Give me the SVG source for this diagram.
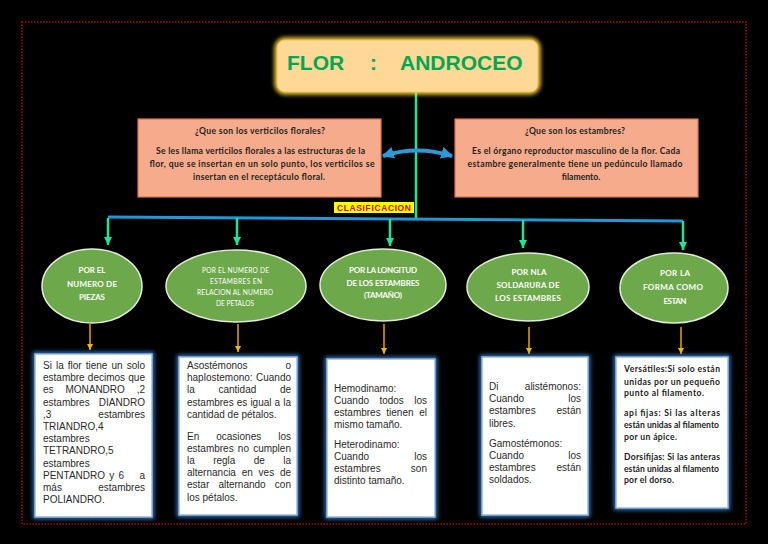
<svg xmlns="http://www.w3.org/2000/svg" width="768" height="544" viewBox="0 0 768 544">
<defs>
<style>
.ttl{font-family:"Liberation Sans",Arial,sans-serif;font-weight:bold;font-size:21px;fill:#00a651}
.sal{fill:#f5ab8c;stroke:#d9764e;stroke-width:1.2}
.st{font-family:Lato,"Open Sans",sans-serif;font-weight:bold;font-size:8.6px;fill:#231f1c}
.ell{fill:#6da84a;stroke:#e3ecd8;stroke-width:1.5}
.et{font-family:Lato,"Open Sans",sans-serif;font-weight:bold;font-size:8px;fill:#ffffff;text-anchor:middle}
.et2{font-family:Lato,"Open Sans",sans-serif;font-weight:normal;font-size:6.6px;fill:#ffffff;text-anchor:middle}
.box{fill:#ffffff;stroke:#8fb8e6;stroke-width:1.5}
.boxg{fill:none;stroke:#3d7fd0;stroke-width:4}
.bt{font-family:"Liberation Sans",Arial,sans-serif;font-size:10px;fill:#2a2a2a}
.b5{font-family:Lato,"Open Sans",sans-serif;font-weight:bold;font-size:8.6px;fill:#1c1c1c}
.r{text-anchor:end}
.gl{stroke:#22e39a;stroke-width:2.5;fill:none}
.yl{stroke:#f2b400;stroke-width:1.4;fill:none}
</style>
<filter id="blur" x="-20%" y="-30%" width="140%" height="160%"><feGaussianBlur stdDeviation="2.2"/></filter>
<marker id="ga" viewBox="0 0 8 8" refX="8" refY="4" markerWidth="8" markerHeight="8" markerUnits="userSpaceOnUse" orient="auto"><path d="M0,0 L8,4 L0,8 z" fill="#22e39a"/></marker>
<marker id="ya" viewBox="0 0 6 6" refX="6" refY="3" markerWidth="6" markerHeight="6" markerUnits="userSpaceOnUse" orient="auto"><path d="M0,0 L6,3 L0,6 z" fill="#f2b400"/></marker>
<marker id="ba" viewBox="0 0 10 10" refX="9" refY="5" markerWidth="12" markerHeight="12" markerUnits="userSpaceOnUse" orient="auto-start-reverse"><path d="M0,0 L10,5 L0,10 z" fill="#2b9ad8"/></marker>
</defs>
<rect x="0" y="0" width="768" height="544" fill="#000000"/>
<rect x="22" y="22" width="724" height="502" fill="none" stroke="#7a0a0a" stroke-width="2" stroke-dasharray="1.5 1.5"/>

<g id="connectors">
<line class="gl" x1="416" y1="92" x2="416" y2="219"/>
<path d="M383,156 Q417,145 452,156" fill="none" stroke="#2b9ad8" stroke-width="4" marker-start="url(#ba)" marker-end="url(#ba)"/>
<line x1="108" y1="217" x2="683" y2="221" stroke="#1e9ad6" stroke-width="3"/>
<line class="gl" x1="108" y1="218" x2="108" y2="245" marker-end="url(#ga)"/>
<line class="gl" x1="237" y1="218" x2="237" y2="245" marker-end="url(#ga)"/>
<line class="gl" x1="390" y1="219" x2="390" y2="246" marker-end="url(#ga)"/>
<line class="gl" x1="523" y1="220" x2="523" y2="248" marker-end="url(#ga)"/>
<line class="gl" x1="683" y1="221" x2="683" y2="250" marker-end="url(#ga)"/>
<line class="yl" x1="90" y1="324" x2="90" y2="350" marker-end="url(#ya)"/>
<line class="yl" x1="238" y1="324" x2="238" y2="352" marker-end="url(#ya)"/>
<line class="yl" x1="384" y1="324" x2="384" y2="354" marker-end="url(#ya)"/>
<line class="yl" x1="529" y1="327" x2="529" y2="354" marker-end="url(#ya)"/>
<line class="yl" x1="681" y1="327" x2="681" y2="354" marker-end="url(#ya)"/>
</g>

<g id="title">
<rect x="277" y="40" width="261" height="52" rx="8" fill="none" stroke="#ffd640" stroke-width="5" filter="url(#blur)"/>
<rect x="277" y="40" width="261" height="52" rx="8" fill="#fdd896" stroke="#f2c24a" stroke-width="1"/>
<text class="ttl" y="70"><tspan x="287">FLOR</tspan><tspan x="370">:</tspan><tspan x="400">ANDROCEO</tspan></text>
</g>

<g id="verticilos">
<rect class="sal" x="138" y="119" width="243" height="78"/>
<text class="st" text-anchor="middle" x="260" y="134" textLength="130">¿Que son los verticilos florales?</text>
<text class="st" text-anchor="middle" x="260.5" y="154" textLength="209">Se les llama verticilos florales a las estructuras de la</text>
<text class="st" text-anchor="middle" x="262" y="166.5" textLength="225">flor, que se insertan en un solo punto, los verticilos se</text>
<text class="st" text-anchor="middle" x="259" y="180" textLength="132">insertan en el receptáculo floral.</text>
</g>

<g id="estambres">
<rect class="sal" x="455" y="119" width="243" height="78"/>
<text class="st" text-anchor="middle" x="575" y="134" textLength="100">¿Que son los estambres?</text>
<text class="st" text-anchor="middle" x="576" y="154" textLength="208">Es el órgano reproductor masculino de la flor. Cada</text>
<text class="st" text-anchor="middle" x="575" y="166.5" textLength="215">estambre generalmente tiene un pedúnculo llamado</text>
<text class="st" text-anchor="middle" x="581" y="180">filamento.</text>
</g>

<g id="clasificacion">
<rect x="334" y="202" width="80" height="11" fill="#ffff00"/>
<text x="374" y="211" text-anchor="middle" font-family="Liberation Sans, Arial, sans-serif" font-weight="bold" font-size="8.5" fill="#e00000" textLength="74">CLASIFICACION</text>
</g>

<g id="e1">
<ellipse class="ell" cx="92" cy="286" rx="50" ry="37"/>
<text class="et" x="92" y="273" textLength="27">POR EL</text>
<text class="et" x="92" y="286.5" textLength="50">NUMERO DE</text>
<text class="et" x="92" y="300" textLength="26">PIEZAS</text>
</g>
<g id="e2">
<ellipse class="ell" cx="236" cy="286" rx="70" ry="36"/>
<text class="et2" x="235.5" y="272.5" textLength="67">POR EL NUMERO DE</text>
<text class="et2" x="236" y="284" textLength="52">ESTAMBRES EN</text>
<text class="et2" x="235" y="294.5" textLength="76">RELACION AL NUMERO</text>
<text class="et2" x="235" y="305.5" textLength="38">DE PETALOS</text>
</g>
<g id="e3">
<ellipse class="ell" cx="383" cy="285" rx="63" ry="36"/>
<text class="et" x="383" y="273" textLength="68">POR LA LONGITUD</text>
<text class="et" x="383" y="286" textLength="73">DE LOS ESTAMBRES</text>
<text class="et" x="383" y="298" textLength="38">(TAMAÑO)</text>
</g>
<g id="e4">
<ellipse class="ell" cx="528" cy="287" rx="61" ry="34"/>
<text class="et" x="529" y="275" textLength="35">POR NLA</text>
<text class="et" x="528" y="288" textLength="63">SOLDARURA DE</text>
<text class="et" x="528" y="301" textLength="66">LOS ESTAMBRES</text>
</g>
<g id="e5">
<ellipse class="ell" cx="674" cy="288" rx="54" ry="35"/>
<text class="et" x="675" y="276" textLength="30">POR LA</text>
<text class="et" x="673" y="290" textLength="60">FORMA COMO</text>
<text class="et" x="675" y="304" textLength="23">ESTAN</text>
</g>

<g id="box1">
<rect class="boxg" x="35" y="354" width="117" height="163" filter="url(#blur)"/>
<rect class="box" x="35" y="354" width="117" height="163"/>
<text class="bt" x="43" y="369" word-spacing="1.28">Si la flor tiene un solo</text>
<text class="bt" x="43" y="381.2" word-spacing="0.4">estambre decimos que</text>
<text class="bt" x="43" y="393.4" word-spacing="9.05">es MONANDRO ,2</text>
<text class="bt" x="43" y="405.6" word-spacing="6.4">estambres DIANDRO</text>
<text class="bt" x="43" y="417.8" word-spacing="44.2">,3 estambres</text>
<text class="bt" x="43" y="430">TRIANDRO,4</text>
<text class="bt" x="43" y="442.2">estambres</text>
<text class="bt" x="43" y="454.4">TETRANDRO,5</text>
<text class="bt" x="43" y="466.6">estambres</text>
<text class="bt" x="43" y="478.8" word-spacing="1.5">PENTANDRO y 6</text>
<text class="bt r" x="145" y="478.8">a</text>
<text class="bt" x="43" y="491" word-spacing="33.6">más estambres</text>
<text class="bt" x="43" y="503.2">POLIANDRO.</text>
</g>

<g id="box2">
<rect class="boxg" x="179" y="357" width="118" height="158" filter="url(#blur)"/>
<rect class="box" x="179" y="357" width="118" height="158"/>
<text class="bt" x="187" y="369" word-spacing="35.1">Asostémonos o</text>
<text class="bt" x="187" y="381.2" word-spacing="0.6">haplostemono: Cuando</text>
<text class="bt" x="187" y="393.4" word-spacing="20.9">la cantidad de</text>
<text class="bt" x="187" y="405.6" word-spacing="0.3">estambres es igual a la</text>
<text class="bt" x="187" y="417.8">cantidad de pétalos.</text>
<text class="bt" x="187" y="440" word-spacing="14.2">En ocasiones los</text>
<text class="bt" x="187" y="452.1" word-spacing="1.4">estambres no cumplen</text>
<text class="bt" x="187" y="464.2" word-spacing="15.6">la regla de la</text>
<text class="bt" x="187" y="476.3" word-spacing="3">alternancia en ves de</text>
<text class="bt" x="187" y="488.4" word-spacing="6.4">estar alternando con</text>
<text class="bt" x="187" y="500.5">los pétalos.</text>
</g>

<g id="box3">
<rect class="boxg" x="327" y="359" width="108" height="158" filter="url(#blur)"/>
<rect class="box" x="327" y="359" width="108" height="158"/>
<text class="bt" x="334" y="391.5">Hemodinamo:</text>
<text class="bt" x="334" y="403.5" word-spacing="7.6">Cuando todos los</text>
<text class="bt" x="334" y="415.5" word-spacing="2.85">estambres tienen el</text>
<text class="bt" x="334" y="427.5">mismo tamaño.</text>
<text class="bt" x="334" y="447.5">Heterodinamo:</text>
<text class="bt" x="334" y="459.5" word-spacing="42.4">Cuando los</text>
<text class="bt" x="334" y="471.5" word-spacing="27.4">estambres son</text>
<text class="bt" x="334" y="483.5">distinto tamaño.</text>
</g>

<g id="box4">
<rect class="boxg" x="482" y="357" width="106" height="158" filter="url(#blur)"/>
<rect class="box" x="482" y="357" width="106" height="158"/>
<text class="bt" x="489" y="390" word-spacing="23.6">Di alistémonos:</text>
<text class="bt" x="489" y="402.2" word-spacing="41.4">Cuando los</text>
<text class="bt" x="489" y="414.4" word-spacing="18.1">estambres están</text>
<text class="bt" x="489" y="426.6">libres.</text>
<text class="bt" x="489" y="446.5">Gamostémonos:</text>
<text class="bt" x="489" y="458.7" word-spacing="41.4">Cuando los</text>
<text class="bt" x="489" y="470.9" word-spacing="18.1">estambres están</text>
<text class="bt" x="489" y="483.1">soldados.</text>
</g>

<g id="box5">
<rect class="boxg" x="616" y="357" width="112" height="151" filter="url(#blur)"/>
<rect class="box" x="616" y="357" width="112" height="151"/>
<text class="b5" x="624" y="372" textLength="96">Versátiles:Si solo están</text>
<text class="b5" x="624" y="385" textLength="96">unidas por un pequeño</text>
<text class="b5" x="624" y="396" textLength="80">punto al filamento.</text>
<text class="b5" x="624" y="416" textLength="96">api fijas: Si las alteras</text>
<text class="b5" x="624" y="428" textLength="95">están unidas al filamento</text>
<text class="b5" x="624" y="440" textLength="53">por un ápice.</text>
<text class="b5" x="624" y="460" textLength="96">Dorsifijas: Si las anteras</text>
<text class="b5" x="624" y="472" textLength="95">están unidas al filamento</text>
<text class="b5" x="624" y="483" textLength="50">por el dorso.</text>
</g>
</svg>
